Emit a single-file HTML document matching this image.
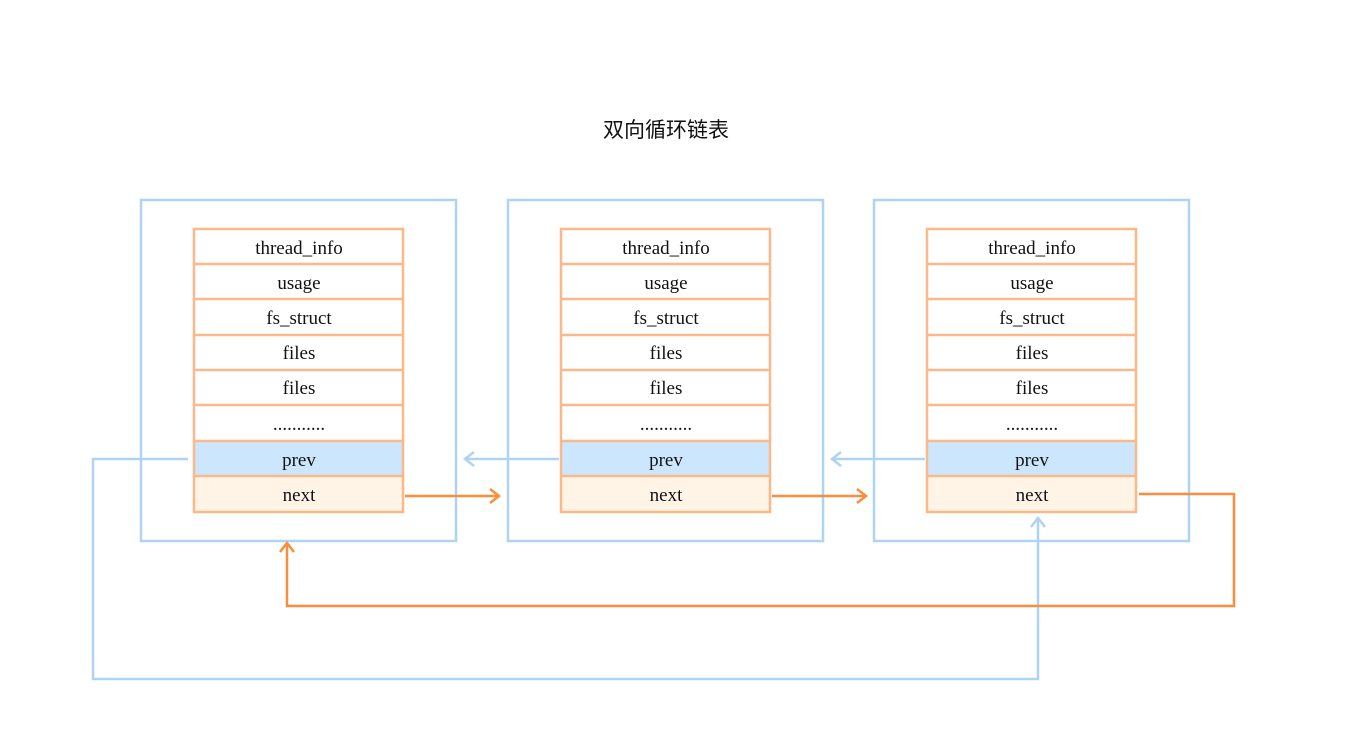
<!DOCTYPE html>
<html><head><meta charset="utf-8"><style>
html,body{margin:0;padding:0;background:#fff;}
svg{display:block;}
text{font-family:"Liberation Serif","Noto Serif CJK SC",serif;font-size:19px;fill:#111;text-anchor:middle;}
.t{font-family:"Liberation Sans","Noto Sans CJK SC",sans-serif;font-size:21px;}
</style></head><body>
<svg width="1363" height="749" viewBox="0 0 1363 749" xmlns="http://www.w3.org/2000/svg">
<rect width="1363" height="749" fill="#fff"/>
<text class="t" x="666" y="137">双向循环链表</text>
<defs>
<g id="node">
  <rect x="0" y="0" width="315" height="341" fill="none" stroke="#aed3f3" stroke-width="2.5"/>
  <rect x="53" y="241" width="209" height="35" fill="#cce6fd"/>
  <rect x="53" y="276" width="209" height="36" fill="#fff4e6"/>
  <rect x="53" y="29" width="209" height="283" fill="none" stroke="#fbb98a" stroke-width="2.5"/>
  <g stroke="#fbb98a" stroke-width="2.5">
    <line x1="53" y1="64" x2="262" y2="64"/>
    <line x1="53" y1="99" x2="262" y2="99"/>
    <line x1="53" y1="135" x2="262" y2="135"/>
    <line x1="53" y1="170" x2="262" y2="170"/>
    <line x1="53" y1="205" x2="262" y2="205"/>
    <line x1="53" y1="241" x2="262" y2="241"/>
    <line x1="53" y1="276" x2="262" y2="276"/>
  </g>
  <text x="158" y="54">thread_info</text>
  <text x="158" y="89">usage</text>
  <text x="158" y="124">fs_struct</text>
  <text x="158" y="159">files</text>
  <text x="158" y="194">files</text>
  <text x="158" y="230">...........</text>
  <text x="158" y="266">prev</text>
  <text x="158" y="301">next</text>
</g>
</defs>
<use href="#node" x="141" y="200"/>
<use href="#node" x="508" y="200"/>
<use href="#node" x="874" y="200"/>
<g fill="none" stroke="#aed3f3" stroke-width="2.5">
  <line x1="559" y1="459" x2="465" y2="459"/>
  <polyline points="474,452 465,459 474,466"/>
  <line x1="925" y1="459" x2="832" y2="459"/>
  <polyline points="841,452 832,459 841,466"/>
  <polyline points="188,459 93,459 93,679 1038,679 1038,518"/>
  <polyline points="1031,527 1038,518 1045,527"/>
</g>
<g fill="none" stroke="#f98e3f" stroke-width="2.5">
  <line x1="405" y1="496" x2="499" y2="496"/>
  <polyline points="490,489 499,496 490,503"/>
  <line x1="772" y1="496" x2="866" y2="496"/>
  <polyline points="857,489 866,496 857,503"/>
  <polyline points="1139,494 1234,494 1234,606 287,606 287,543"/>
  <polyline points="280,552 287,543 294,552"/>
</g>
</svg>
</body></html>
